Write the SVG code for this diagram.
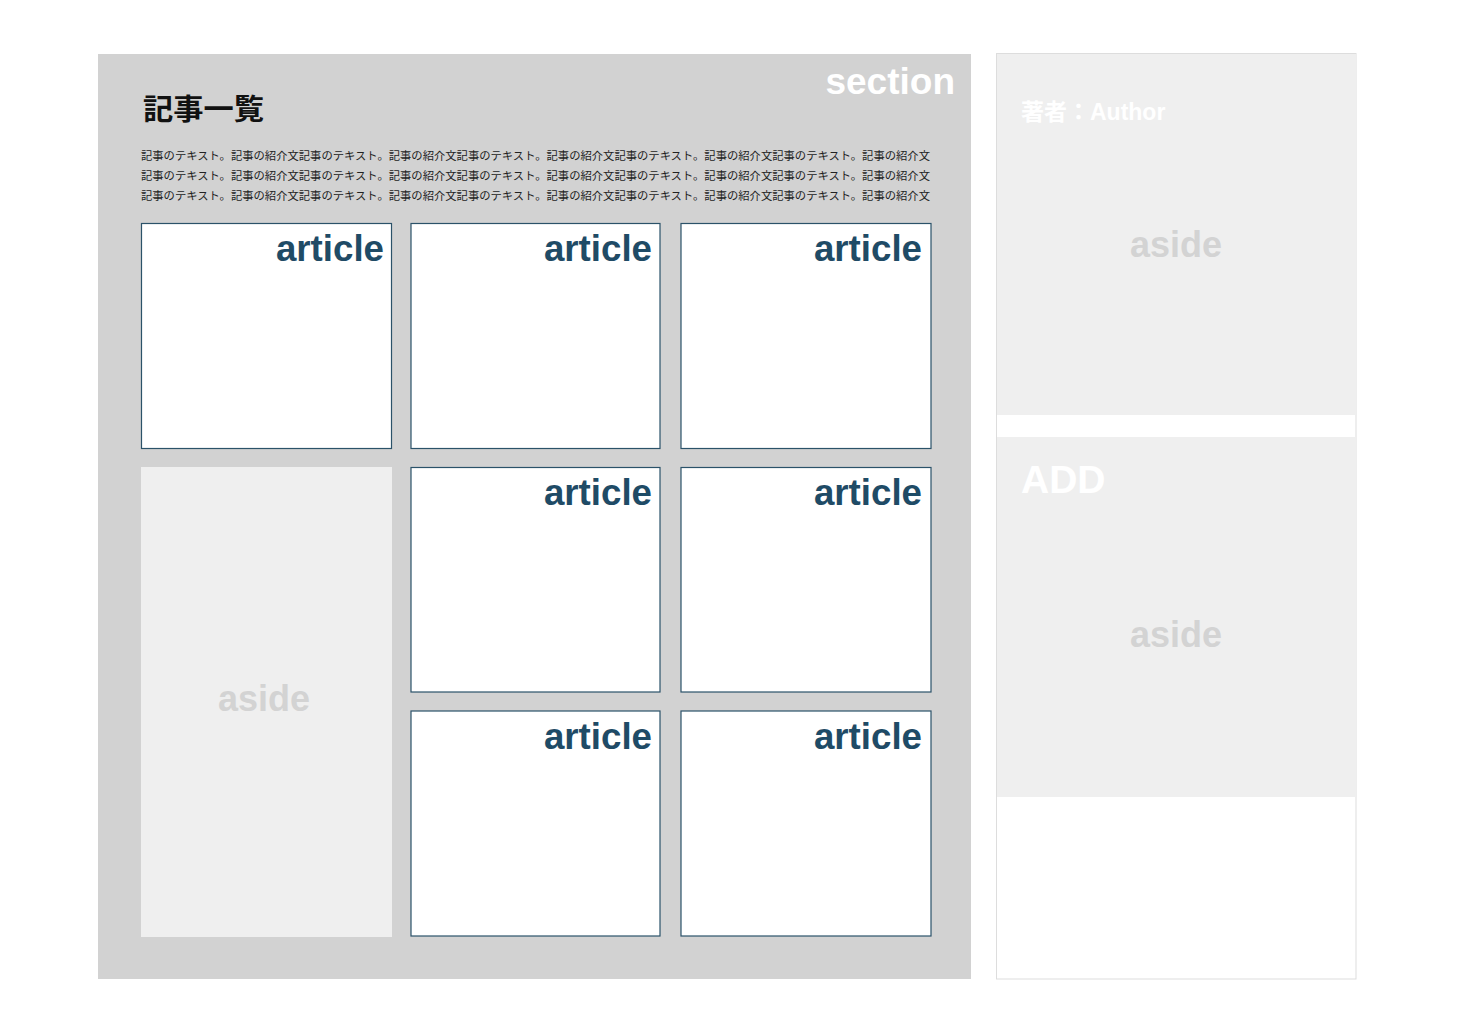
<svg xmlns="http://www.w3.org/2000/svg" width="1477" height="1023" viewBox="0 0 1477 1023">
<style>
.lbl{font-family:"Liberation Sans",Arial,"Noto Sans CJK JP",sans-serif;font-weight:bold}
.art rect{fill:#ffffff;stroke:#2b5269;stroke-width:1.2}
.art text{fill:#1f4b66;font-size:36.7px;text-anchor:end}
.aside-t{fill:#d3d3d3;font-size:36px;text-anchor:middle}
.body{font-family:"Noto Sans CJK JP","Noto Sans CJK SC",sans-serif;font-size:11px;fill:#222}
</style>
<rect x="0" y="0" width="1477" height="1023" fill="#ffffff"/>
<g id="section">
  <rect x="98" y="54" width="873" height="925" fill="#d2d2d2"/>
  <text class="lbl" x="955" y="94" fill="#ffffff" font-size="37" text-anchor="end">section</text>
  <text x="143" y="120" font-family="'Noto Sans CJK JP','Noto Sans CJK SC',sans-serif" font-weight="bold" font-size="29" fill="#111" textLength="121" lengthAdjust="spacingAndGlyphs">記事一覧</text>
  <text class="body" x="141" y="160" textLength="789" lengthAdjust="spacingAndGlyphs">記事のテキスト。記事の紹介文記事のテキスト。記事の紹介文記事のテキスト。記事の紹介文記事のテキスト。記事の紹介文記事のテキスト。記事の紹介文</text>
  <text class="body" x="141" y="180" textLength="789" lengthAdjust="spacingAndGlyphs">記事のテキスト。記事の紹介文記事のテキスト。記事の紹介文記事のテキスト。記事の紹介文記事のテキスト。記事の紹介文記事のテキスト。記事の紹介文</text>
  <text class="body" x="141" y="200" textLength="789" lengthAdjust="spacingAndGlyphs">記事のテキスト。記事の紹介文記事のテキスト。記事の紹介文記事のテキスト。記事の紹介文記事のテキスト。記事の紹介文記事のテキスト。記事の紹介文</text>
</g>
<g id="article1" class="art"><rect x="141.5" y="223.5" width="250" height="225"/><text class="lbl" x="384" y="261">article</text></g>
<g id="article2" class="art"><rect x="411" y="223.5" width="249" height="225"/><text class="lbl" x="652" y="261">article</text></g>
<g id="article3" class="art"><rect x="681" y="223.5" width="250" height="225"/><text class="lbl" x="922" y="261">article</text></g>
<g id="aside-left">
  <rect x="141" y="467" width="251" height="470" fill="#efefef"/>
  <text class="lbl aside-t" x="264" y="711">aside</text>
</g>
<g id="article4" class="art"><rect x="411" y="467.5" width="249" height="224.5"/><text class="lbl" x="652" y="505">article</text></g>
<g id="article5" class="art"><rect x="681" y="467.5" width="250" height="224.5"/><text class="lbl" x="922" y="505">article</text></g>
<g id="article6" class="art"><rect x="411" y="711" width="249" height="225"/><text class="lbl" x="652" y="749">article</text></g>
<g id="article7" class="art"><rect x="681" y="711" width="250" height="225"/><text class="lbl" x="922" y="749">article</text></g>
<g id="sidebar">
  <rect x="996.5" y="53.5" width="359.5" height="925.5" fill="#ffffff" stroke="#dddddd" stroke-width="1"/>
</g>
<g id="aside-author">
  <rect x="997" y="54" width="358.5" height="361" fill="#efefef"/>
  <text x="1021" y="120" fill="#ffffff" font-size="23" font-family="'Liberation Sans',Arial,'Noto Sans CJK JP',sans-serif" font-weight="bold">著者：Author</text>
  <text class="lbl aside-t" x="1176" y="257">aside</text>
</g>
<g id="aside-add">
  <rect x="997" y="437" width="358.5" height="360" fill="#efefef"/>
  <text class="lbl" x="1021" y="493" fill="#ffffff" font-size="39">ADD</text>
  <text class="lbl aside-t" x="1176" y="647">aside</text>
</g>
<g id="connectors"></g>
</svg>
